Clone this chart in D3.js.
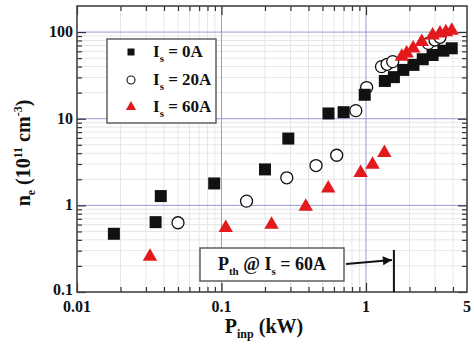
<!DOCTYPE html>
<html>
<head>
<meta charset="utf-8">
<script src="https://cdn.jsdelivr.net/npm/d3@7"></script>
<style>
body { margin: 0; background: #fff; }
text { font-family: "Liberation Serif", "Times New Roman", serif; font-weight: bold; fill: #111; }
</style>
</head>
<body>
<div id="chart"></div>
<script>
// input power (kW) and density (1e11 cm^-3) for each coil current
const p0 = [0.018, 0.035, 0.038, 0.089, 0.20, 0.29, 0.55, 0.70, 0.98, 1.35, 1.56, 1.81, 2.13, 2.47, 2.89, 3.43, 3.92];
const n0 = [0.47, 0.64, 1.28, 1.79, 2.6, 5.9, 11.5, 11.9, 18.9, 27.3, 30.2, 36.6, 41.8, 48.6, 54.4, 61, 65];

const p20 = [0.050, 0.149, 0.283, 0.451, 0.627, 0.85, 1.01, 1.28, 1.40, 1.53, 2.70, 3.0, 3.25];
const n20 = [0.63, 1.12, 2.08, 2.88, 3.79, 12.4, 22.9, 39.9, 42.5, 45.6, 74, 81, 87];

const p60 = [0.032, 0.107, 0.222, 0.383, 0.548, 0.918, 1.11, 1.34, 1.77, 1.91, 2.12, 2.43, 2.89, 3.25, 3.57, 3.92];
const n60 = [0.257, 0.55, 0.60, 0.97, 1.57, 2.38, 2.96, 4.03, 52, 57, 65, 77, 92, 97, 100, 104];

const xTickLabels = ["0.01", "0.1", "1", "5"];
const xTickValues = [0.01, 0.1, 1, 5];
const yTickLabels = ["0.1", "1", "10", "100"];
const yTickValues = [0.1, 1, 10, 100];
const legendLabels = ["0A", "20A", "60A"];
const pThreshold = 1.56;

const width = 474, height = 351;
const mLeft = 77, mRight = 467, mTop = 6, mBottom = 292;

const svg = d3.select("#chart").append("svg")
    .attr("width", width)
    .attr("height", height);

const x = d3.scaleLog().domain([0.01, 5]).range([mLeft, mRight]);
const y = d3.scaleLog().domain([0.1, 200]).range([mBottom, mTop]);

// minor values for grid and ticks
const xMinor = [];
[0.01, 0.1, 1].forEach(d => { for (let k = 2; k <= 9; k++) if (d * k < 5) xMinor.push(d * k); });
const yMinor = [];
[0.1, 1, 10, 100].forEach(d => { for (let k = 2; k <= 9; k++) if (d * k < 200) yMinor.push(d * k); });

// grid
svg.append("g").selectAll("line").data(xMinor).enter().append("line")
    .attr("x1", d => x(d)).attr("x2", d => x(d))
    .attr("y1", mTop).attr("y2", mBottom)
    .attr("stroke", "#e6e6e6").attr("stroke-width", 1);
svg.append("g").selectAll("line").data(yMinor).enter().append("line")
    .attr("x1", mLeft).attr("x2", mRight)
    .attr("y1", d => y(d)).attr("y2", d => y(d))
    .attr("stroke", "#e6e6e6").attr("stroke-width", 1);
svg.append("g").selectAll("line").data([0.1, 1]).enter().append("line")
    .attr("x1", d => x(d)).attr("x2", d => x(d))
    .attr("y1", mTop).attr("y2", mBottom)
    .attr("stroke", "#9a9ad6").attr("stroke-width", 1);
svg.append("g").selectAll("line").data([1, 10, 100]).enter().append("line")
    .attr("x1", mLeft).attr("x2", mRight)
    .attr("y1", d => y(d)).attr("y2", d => y(d))
    .attr("stroke", "#9a9ad6").attr("stroke-width", 1);

// axes with inward ticks
const axisStyle = g => {
    g.select(".domain").remove();
    g.selectAll("line").attr("stroke", "#333").attr("stroke-width", 1.2);
};
svg.append("g").attr("transform", `translate(0,${mBottom})`)
    .call(d3.axisTop(x).tickValues(xMinor).tickSize(5).tickFormat("")).call(axisStyle);
svg.append("g").attr("transform", `translate(0,${mBottom})`)
    .call(d3.axisTop(x).tickValues([0.01, 0.1, 1]).tickSize(9).tickFormat("")).call(axisStyle);
svg.append("g").attr("transform", `translate(0,${mTop})`)
    .call(d3.axisBottom(x).tickValues(xMinor).tickSize(5).tickFormat("")).call(axisStyle);
svg.append("g").attr("transform", `translate(0,${mTop})`)
    .call(d3.axisBottom(x).tickValues([0.01, 0.1, 1]).tickSize(9).tickFormat("")).call(axisStyle);
svg.append("g").attr("transform", `translate(${mLeft},0)`)
    .call(d3.axisRight(y).tickValues(yMinor).tickSize(5).tickFormat("")).call(axisStyle);
svg.append("g").attr("transform", `translate(${mLeft},0)`)
    .call(d3.axisRight(y).tickValues(yTickValues).tickSize(9).tickFormat("")).call(axisStyle);
svg.append("g").attr("transform", `translate(${mRight},0)`)
    .call(d3.axisLeft(y).tickValues(yMinor).tickSize(5).tickFormat("")).call(axisStyle);
svg.append("g").attr("transform", `translate(${mRight},0)`)
    .call(d3.axisLeft(y).tickValues(yTickValues).tickSize(9).tickFormat("")).call(axisStyle);

// tick labels
svg.append("g").selectAll("text").data(xTickValues).enter().append("text")
    .attr("x", d => x(d)).attr("y", mBottom + 20)
    .attr("text-anchor", "middle").style("font-size", "16px")
    .text((d, i) => xTickLabels[i]);
svg.append("g").selectAll("text").data(yTickValues).enter().append("text")
    .attr("x", mLeft - 4).attr("y", d => y(d) + (d === 0.1 ? 3 : 5))
    .attr("text-anchor", "end").style("font-size", "16px")
    .text((d, i) => yTickLabels[i]);

// frame
svg.append("rect")
    .attr("x", mLeft).attr("y", mTop)
    .attr("width", mRight - mLeft).attr("height", mBottom - mTop)
    .attr("fill", "none").attr("stroke", "#444").attr("stroke-width", 1.6);

// axis titles
const xt = svg.append("text")
    .attr("x", 264).attr("y", 333)
    .attr("text-anchor", "middle").style("font-size", "20px");
xt.append("tspan").text("P");
xt.append("tspan").attr("dy", 5).style("font-size", "12px").text("inp");
xt.append("tspan").attr("dy", -5).text(" (kW)");

const yt = svg.append("text")
    .attr("transform", "translate(30,153) rotate(-90)")
    .attr("text-anchor", "middle").style("font-size", "20px");
yt.append("tspan").text("n");
yt.append("tspan").attr("dy", 5).style("font-size", "12px").text("e");
yt.append("tspan").attr("dy", -5).text(" (10");
yt.append("tspan").attr("dy", -8).style("font-size", "12px").text("11");
yt.append("tspan").attr("dy", 8).text(" cm");
yt.append("tspan").attr("dy", -8).style("font-size", "12px").text("-3");
yt.append("tspan").attr("dy", 8).text(")");

// markers
const tri = d3.symbol().type(d3.symbolTriangle);
const plot = svg.append("g");

plot.selectAll(".c20").data(p20).enter().append("circle")
    .attr("class", "c20")
    .attr("cx", d => x(d)).attr("cy", (d, i) => y(n20[i]))
    .attr("r", 6)
    .attr("fill", "#fff").attr("stroke", "#111").attr("stroke-width", 1.3);

plot.selectAll(".s0").data(p0).enter().append("rect")
    .attr("class", "s0")
    .attr("x", d => x(d) - 6).attr("y", (d, i) => y(n0[i]) - 6)
    .attr("width", 12).attr("height", 12)
    .attr("fill", "#111");

plot.selectAll(".t60").data(p60).enter().append("path")
    .attr("class", "t60")
    .attr("transform", (d, i) => `translate(${x(d)},${y(n60[i])})`)
    .attr("d", tri.size(90)())
    .attr("fill", "#e3191c");

// legend
const legend = svg.append("g");
legend.append("rect")
    .attr("x", 107).attr("y", 39).attr("width", 109).attr("height", 84)
    .attr("fill", "#fff").attr("stroke", "#555").attr("stroke-width", 1.4);
const ly = [52, 80, 107];
legend.append("rect").attr("x", 127.5).attr("y", ly[0] - 3.5).attr("width", 7).attr("height", 7).attr("fill", "#111");
legend.append("circle").attr("cx", 131).attr("cy", ly[1]).attr("r", 4)
    .attr("fill", "#fff").attr("stroke", "#111").attr("stroke-width", 1.1);
legend.append("path").attr("transform", `translate(131,${ly[2]})`)
    .attr("d", tri.size(45)()).attr("fill", "#e3191c");
legendLabels.forEach((lab, i) => {
    const t = legend.append("text").attr("x", 153).attr("y", ly[i] + 5).style("font-size", "17px");
    t.append("tspan").text("I");
    t.append("tspan").attr("dy", 5).style("font-size", "11px").text("s");
    t.append("tspan").attr("dy", -5).text(" = " + lab);
});

// threshold annotation
const xth = x(pThreshold);
svg.append("line")
    .attr("x1", xth).attr("x2", xth).attr("y1", 250).attr("y2", mBottom)
    .attr("stroke", "#111").attr("stroke-width", 2);

svg.append("defs").append("marker")
    .attr("id", "arrow").attr("viewBox", "0 0 10 10")
    .attr("refX", 10).attr("refY", 5)
    .attr("markerWidth", 6).attr("markerHeight", 5)
    .attr("orient", "auto")
    .append("path").attr("d", "M0,0 L10,5 L0,10 Z").attr("fill", "#111");

svg.append("line")
    .attr("x1", 346).attr("y1", 264).attr("x2", xth - 2).attr("y2", 260)
    .attr("stroke", "#111").attr("stroke-width", 1.8)
    .attr("marker-end", "url(#arrow)");

svg.append("rect")
    .attr("x", 200).attr("y", 248).attr("width", 144).attr("height", 33)
    .attr("fill", "#fff").attr("stroke", "#555").attr("stroke-width", 1.4);
const at = svg.append("text").attr("x", 272).attr("y", 270)
    .attr("text-anchor", "middle").style("font-size", "18px");
at.append("tspan").text("P");
at.append("tspan").attr("dy", 5).style("font-size", "11px").text("th");
at.append("tspan").attr("dy", -5).text(" @ I");
at.append("tspan").attr("dy", 5).style("font-size", "11px").text("s");
at.append("tspan").attr("dy", -5).text(" = 60A");
</script>
</body>
</html>
